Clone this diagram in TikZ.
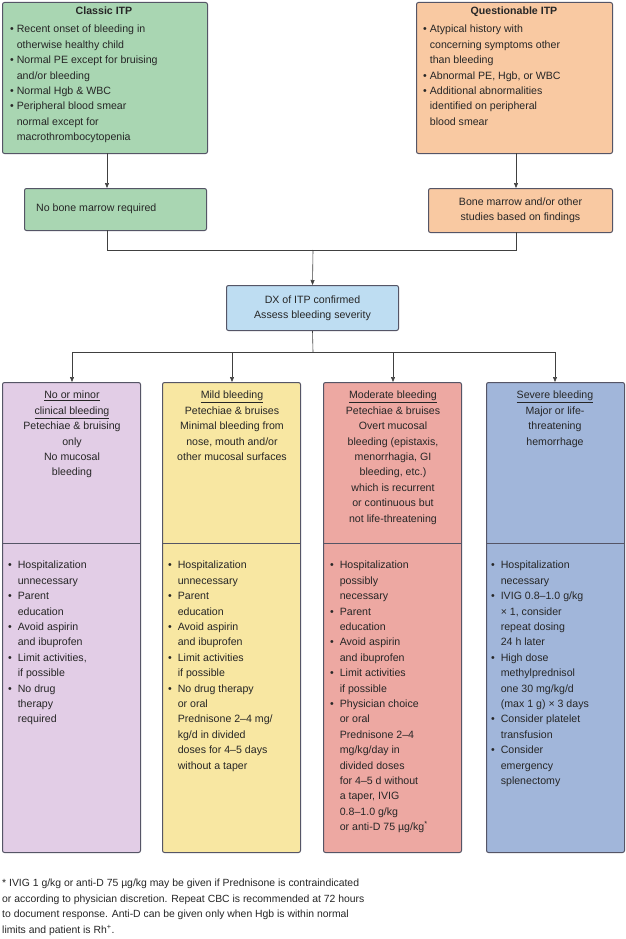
\documentclass[tikz,border=0pt]{standalone}
\usepackage{fontspec}
\setmainfont{Liberation Sans}
\usetikzlibrary{arrows.meta}
\definecolor{cgreen}{HTML}{A9D6B2}
\definecolor{corange}{HTML}{F9C9A2}
\definecolor{cblue}{HTML}{BEDDF2}
\definecolor{cpurple}{HTML}{E2CDE6}
\definecolor{cyellow}{HTML}{F8E7A2}
\definecolor{cred}{HTML}{EDA8A2}
\definecolor{cblue2}{HTML}{A1B6DA}
\definecolor{edge}{HTML}{555566}
\tikzset{
 x=1pt,y=-1pt,
 box/.style={draw=edge,line width=1pt,rounded corners=2pt},
 txt/.style={font=\fontsize{10.6}{15.4}\selectfont,text=black!85,inner sep=0pt},
 arr/.style={draw=black!75,line width=0.6pt,-{Triangle[length=5pt,width=4pt]}},
 ln/.style={draw=black!75,line width=0.6pt},
 bl/.style={txt,align=left,anchor=north west},
}
\begin{document}
\begin{tikzpicture}
\useasboundingbox (0,0) rectangle (626,939);
\fill[white] (0,0) rectangle (626,939);
% top boxes
\node[box,fill=cgreen,minimum width=205,minimum height=151,anchor=north west] (classic) at (2,2) {};
\node[txt,anchor=north] at (104,7) {\textbf{Classic ITP}};
\node[bl] (ct) at (10,22) {\begin{tabular}{@{}l@{\ }l@{}}
•&Recent onset of bleeding in\\&otherwise healthy child\\
•&Normal PE except for bruising\\&and/or bleeding\\
•&Normal Hgb \& WBC\\
•&Peripheral blood smear\\&normal except for\\&macrothrombocytopenia\end{tabular}};
\node[box,fill=corange,minimum width=196,minimum height=151,anchor=north west] (quest) at (416,2) {};
\node[txt,anchor=north] at (514,7) {\textbf{Questionable ITP}};
\node[bl] (qt) at (423,22) {\begin{tabular}{@{}l@{\ }l@{}}
•&Atypical history with\\&concerning symptoms other\\&than bleeding\\
•&Abnormal PE, Hgb, or WBC\\
•&Additional abnormalities\\&identified on peripheral\\&blood smear\end{tabular}};
\node[box,fill=cgreen,minimum width=182,minimum height=42,anchor=north west] (nobm) at (24,188) {};
\node[txt,anchor=west] at (36,209) {No bone marrow required};
\node[box,fill=corange,minimum width=184,minimum height=44,anchor=north west,align=center,txt] (bm) at (428,188) {Bone marrow and/or other\\studies based on findings};
\draw[arr] (107,153) -- (107,188);
\draw[arr] (516,153) -- (516,188);
\draw[ln] (107,230) -- (107,250) -- (516,250) -- (516,232);
\node[box,fill=cblue,minimum width=172,minimum height=45,anchor=north west,align=center,txt] (dx) at (226,285) {DX of ITP confirmed\\Assess bleeding severity};
\draw[arr] (313,250) -- (dx.north);
\draw[ln] (dx.south) -- (313,352);
\draw[ln] (72,352) -- (555,352);
% columns
\foreach \x/\c/\n in {2/cpurple/c1,162/cyellow/c2,323/cred/c3,486/cblue2/c4}{
 \node[box,fill=\c,minimum width=138,minimum height=470,anchor=north west] (\n) at (\x,382) {};
 \draw[edge,line width=1pt] (\x,543) -- ++(138,0);
}
\draw[arr] (72,352) -- (72,382);
\draw[arr] (232,352) -- (232,382);
\draw[arr] (393,352) -- (393,382);
\draw[arr] (555,352) -- (555,382);
\node[txt,align=center,anchor=north] at (72,391) {\underline{No or minor}\\\underline{clinical bleeding}\\Petechiae \& bruising\\only\\No mucosal\\bleeding};
\node[txt,align=center,anchor=north] at (232,391) {\underline{Mild bleeding}\\Petechiae \& bruises\\Minimal bleeding from\\nose, mouth and/or\\other mucosal surfaces};
\node[txt,align=center,anchor=north] at (393,391) {\underline{Moderate bleeding}\\Petechiae \& bruises\\Overt mucosal\\bleeding (epistaxis,\\menorrhagia, GI\\bleeding, etc.)\\which is recurrent\\or continuous but\\not life-threatening};
\node[txt,align=center,anchor=north] at (555,391) {\underline{Severe bleeding}\\Major or life-\\threatening\\hemorrhage};
\node[bl] at (8,558) {\begin{tabular}{@{}l@{\ \ }l@{}}
•&Hospitalization\\&unnecessary\\•&Parent\\&education\\•&Avoid aspirin\\&and ibuprofen\\•&Limit activities,\\&if possible\\•&No drug\\&therapy\\&required\end{tabular}};
\node[bl] at (168,558) {\begin{tabular}{@{}l@{\ \ }l@{}}
•&Hospitalization\\&unnecessary\\•&Parent\\&education\\•&Avoid aspirin\\&and ibuprofen\\•&Limit activities\\&if possible\\•&No drug therapy\\&or oral\\&Prednisone 2–4 mg/\\&kg/d in divided\\&doses for 4–5 days\\&without a taper\end{tabular}};
\node[bl] at (330,558) {\begin{tabular}{@{}l@{\ \ }l@{}}
•&Hospitalization\\&possibly\\&necessary\\•&Parent\\&education\\•&Avoid aspirin\\&and ibuprofen\\•&Limit activities\\&if possible\\•&Physician choice\\&or oral\\&Prednisone 2–4\\&mg/kg/day in\\&divided doses\\&for 4–5 d without\\&a taper, IVIG\\&0.8–1.0 g/kg\\&or anti-D 75 µg/kg\textsuperscript{*}\end{tabular}};
\node[bl] at (491,558) {\begin{tabular}{@{}l@{\ \ }l@{}}
•&Hospitalization\\&necessary\\•&IVIG 0.8–1.0 g/kg\\&× 1, consider\\&repeat dosing\\&24 h later\\•&High dose\\&methylprednisol\\&one 30 mg/kg/d\\&(max 1 g) × 3 days\\•&Consider platelet\\&transfusion\\•&Consider\\&emergency\\&splenectomy\end{tabular}};
\node[bl,font=\fontsize{10.4}{15.5}\selectfont] (fn) at (2,879) {* IVIG 1 g/kg or anti-D 75 µg/kg may be given if Prednisone is contraindicated\\or according to physician discretion. Repeat CBC is recommended at 72 hours\\to document response. Anti-D can be given only when Hgb is within normal\\limits and patient is Rh\textsuperscript{+}.};
\end{tikzpicture}
\end{document}
